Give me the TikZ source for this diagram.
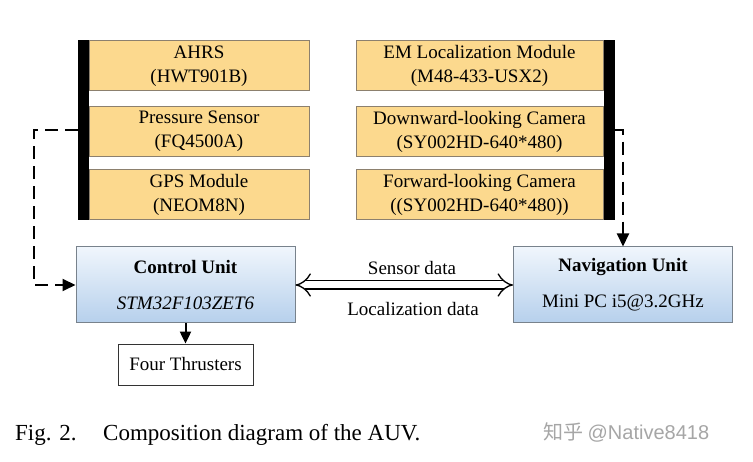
\documentclass[tikz,border=0pt]{standalone}
\usepackage{fontspec}
\setmainfont{Liberation Serif}
\newfontfamily\cjkfont{Noto Sans CJK SC}
\newfontfamily\wmfont{Liberation Sans}
\usetikzlibrary{arrows.meta,shadings}
\definecolor{sensorfill}{RGB}{252,217,142}
\definecolor{sensorline}{RGB}{140,128,110}
\definecolor{unittop}{RGB}{240,246,252}
\definecolor{unitbot}{RGB}{182,208,236}
\definecolor{unitline}{RGB}{120,130,140}
\tikzset{
  sensorbox/.style={draw=sensorline, line width=1pt, fill=sensorfill, minimum width=220pt, minimum height=50pt, inner sep=0pt, align=center, font=\fontsize{19}{24}\selectfont},
  sensorboxr/.style={sensorbox, minimum width=247pt},
  blackbar/.style={fill=black, draw=none, minimum width=11pt, minimum height=180pt, inner sep=0pt},
  unitbox/.style={draw=unitline, line width=1pt, top color=unittop, bottom color=unitbot, minimum width=219pt, minimum height=76pt, inner sep=0pt, align=center, font=\fontsize{19}{36}\selectfont},
  plainbox/.style={draw=black!80, line width=0.8pt, fill=white, minimum width=135pt, minimum height=41pt, inner sep=0pt, font=\fontsize{19}{24}\selectfont},
  dashlink/.style={line width=2pt, dash pattern=on 13pt off 7pt, -{Triangle[length=13pt,width=12pt]}},
  solidlink/.style={line width=2pt, -{Triangle[length=12pt,width=11pt]}},
  lbl/.style={font=\fontsize{19}{24}\selectfont, inner sep=0pt},
}
\begin{document}
\begin{tikzpicture}[x=1pt,y=-1pt]
\useasboundingbox[fill=white] (0,0) rectangle (753,462);
% left sensors
\node[sensorbox] (ahrs) at (199,66) {AHRS\\(HWT901B)};
\node[sensorbox] (ps) at (199,131.5) {Pressure Sensor\\(FQ4500A)};
\node[sensorbox] (gps) at (199,195) {GPS Module\\(NEOM8N)};
\node[blackbar] (lbar) at (83.5,130.5) {};
% right sensors
\node[sensorboxr] (em) at (479.5,65.5) {EM Localization Module\\(M48-433-USX2)};
\node[sensorboxr] (dc) at (479.5,131.5) {Downward-looking Camera\\(SY002HD-640*480)};
\node[sensorboxr] (fc) at (479.5,194.5) {Forward-looking Camera\\((SY002HD-640*480))};
\node[blackbar] (rbar) at (609,130) {};
% units
\node[unitbox] (cu) at (185.5,285) {\textbf{Control Unit}\\\textit{STM32F103ZET6}};
\node[unitbox] (nu) at (623,285) {\textbf{Navigation Unit}\\Mini PC i5@3.2GHz};
\node[plainbox] (ft) at (185.5,364.5) {Four Thrusters};
% connectors
\coordinate (lturn) at (34,130);
\draw[dashlink] (lbar.west |- lturn) -- (lturn) |- (cu.west);
\draw[dashlink] (rbar.east |- lturn) -| (nu.north);
\draw[solidlink] (cu.south) -- (ft.north);
\draw[double, double distance=7pt, line width=1.3pt, {Implies[length=13pt,width=22pt]}-{Implies[length=13pt,width=22pt]}] (cu.east) -- (nu.west);
\node[lbl] (sd) at (412,268) {Sensor data};
\node[lbl] (ld) at (413,309) {Localization data};
% caption
\node[anchor=base west, inner sep=0pt, font=\fontsize{23}{28}\selectfont] (fig) at (15,441) {Fig. 2.};
\node[anchor=base west, inner sep=0pt, font=\fontsize{23}{28}\selectfont] (cap) at (103,441) {Composition diagram of the AUV.};
\node[anchor=base west, inner sep=0pt, text=black!35, font=\fontsize{20}{24}\selectfont] (wm) at (543,440) {\cjkfont 知乎\ \wmfont @Native8418};
\end{tikzpicture}
\end{document}
